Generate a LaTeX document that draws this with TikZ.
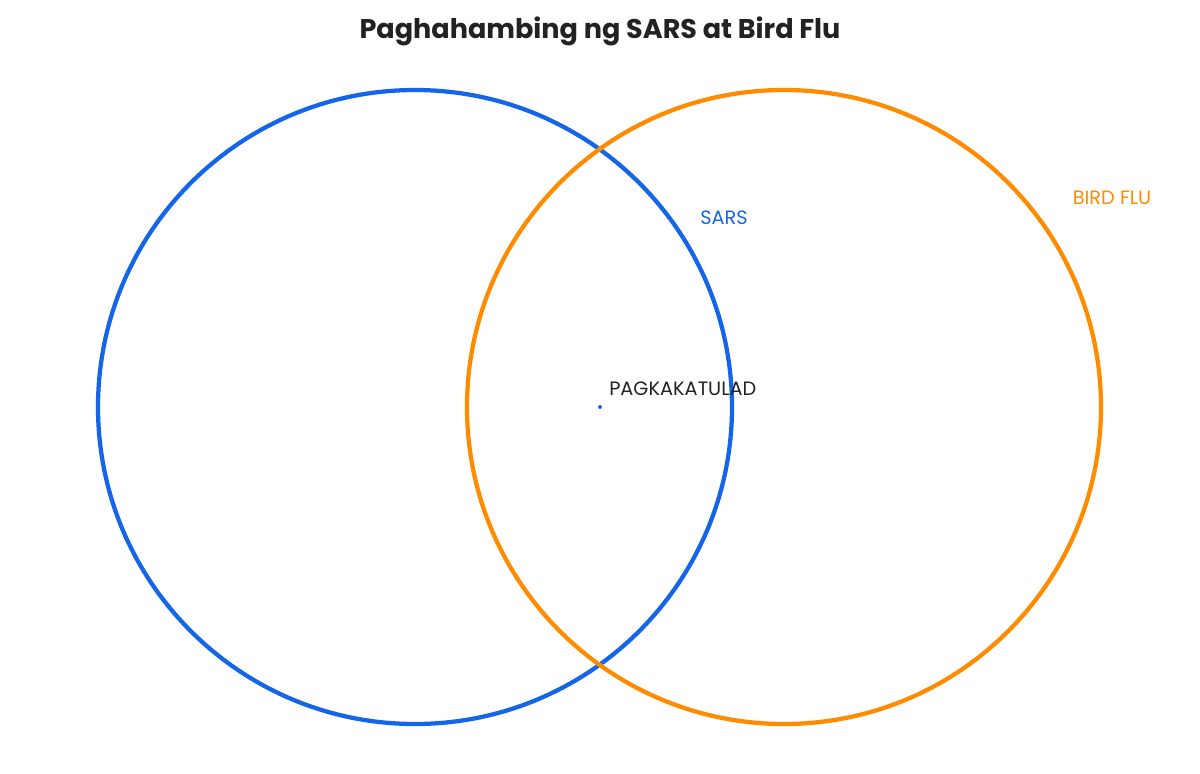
\documentclass[tikz,border=0pt]{standalone}
\usepackage{fontspec}
\setmainfont{Poppins}
\definecolor{sarsblue}{HTML}{1565E8}
\definecolor{fluorange}{HTML}{FF8C00}
\definecolor{titlegray}{HTML}{222222}
\begin{document}
\begin{tikzpicture}[x=0.75pt,y=-0.75pt,
    setcircle/.style={line width=3.2pt},
    setlabel/.style={inner sep=0pt,font=\fontsize{14.5}{17}\selectfont}]
    \useasboundingbox (0,0) rectangle (1200,774);
    \node (title) at (600,31) [font=\bfseries\fontsize{20.3}{24}\selectfont,text=titlegray] {Paghahambing ng SARS at Bird Flu};
    \draw[setcircle,sarsblue] (415,407) circle [radius=317];
    \draw[setcircle,fluorange] (784,407) circle [radius=317];
    \node (sars) [setlabel,text=sarsblue] at (724,218) {SARS};
    \node (birdflu) [setlabel,text=fluorange] at (1112,198) {BIRD FLU};
    \fill[sarsblue] (600,407) circle [radius=2];
    \node (common) [setlabel,text=titlegray,anchor=west] at (609,389) {PAGKAKATULAD};
  \end{tikzpicture}
\end{document}
